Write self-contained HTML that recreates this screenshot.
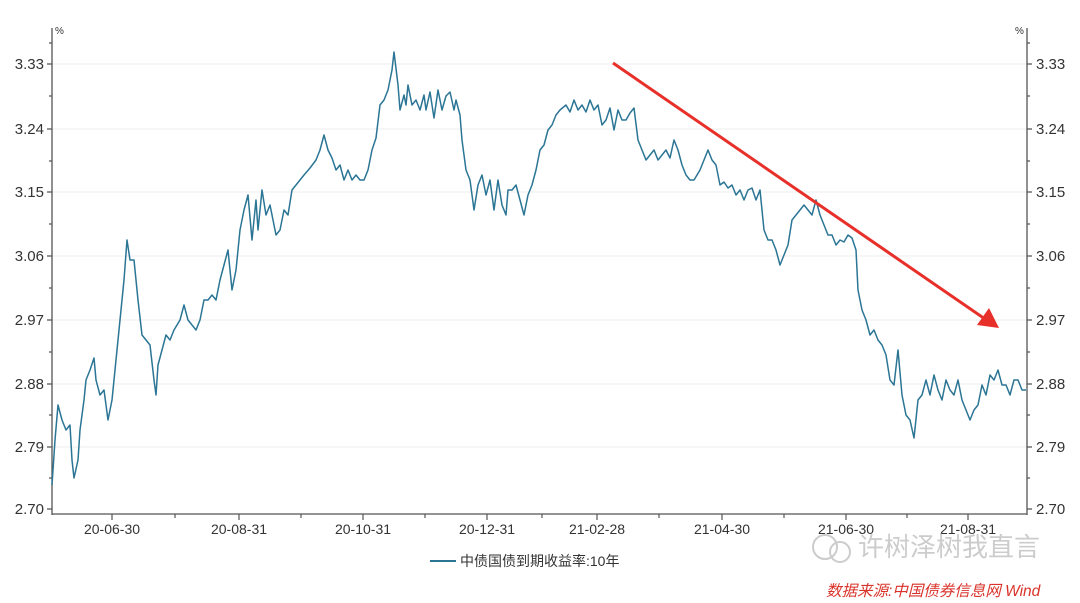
<!DOCTYPE html>
<html><head><meta charset="utf-8"><style>
body{margin:0;background:#fff;width:1080px;height:598px;overflow:hidden}
svg text{font-family:"Liberation Sans","Noto Sans CJK SC",sans-serif}
</style></head><body>
<svg width="1080" height="598" viewBox="0 0 1080 598">
<g stroke="#eee" stroke-width="1">
<line x1="52" x2="1027" y1="64" y2="64"/><line x1="52" x2="1027" y1="129" y2="129"/>
<line x1="52" x2="1027" y1="192" y2="192"/><line x1="52" x2="1027" y1="256" y2="256"/>
<line x1="52" x2="1027" y1="320" y2="320"/><line x1="52" x2="1027" y1="384" y2="384"/>
<line x1="52" x2="1027" y1="447" y2="447"/>
</g>
<g stroke="#555" stroke-width="1.3" fill="none">
<line x1="52" y1="28" x2="52" y2="515"/><line x1="1027" y1="28" x2="1027" y2="515"/>
<line x1="52" y1="514" x2="1027" y2="514"/>
</g>
<g stroke="#555" stroke-width="1.2">
<path d="M47 64h5M47 129h5M47 192h5M47 256h5M47 320h5M47 384h5M47 447h5M47 509h5M49 43h3M49 96h3M49 161h3M49 224h3M49 288h3M49 352h3M49 415h3M49 478h3"/>
<path d="M1027 64h5M1027 129h5M1027 192h5M1027 256h5M1027 320h5M1027 384h5M1027 447h5M1027 509h5M1027 43h3M1027 96h3M1027 161h3M1027 224h3M1027 288h3M1027 352h3M1027 415h3M1027 478h3"/>
<path d="M112 514v6M239 514v6M363 514v6M487 514v6M597 514v6M722 514v6M846 514v6M968 514v6M175 514v4M301 514v4M425 514v4M542 514v4M659 514v4M784 514v4M907 514v4"/>
</g>
<g font-size="15" fill="#333">
<text x="44" y="69" text-anchor="end">3.33</text><text x="44" y="134" text-anchor="end">3.24</text>
<text x="44" y="197" text-anchor="end">3.15</text><text x="44" y="261" text-anchor="end">3.06</text>
<text x="44" y="325" text-anchor="end">2.97</text><text x="44" y="389" text-anchor="end">2.88</text>
<text x="44" y="452" text-anchor="end">2.79</text><text x="44" y="514" text-anchor="end">2.70</text>
<text x="1036" y="69">3.33</text><text x="1036" y="134">3.24</text>
<text x="1036" y="197">3.15</text><text x="1036" y="261">3.06</text>
<text x="1036" y="325">2.97</text><text x="1036" y="389">2.88</text>
<text x="1036" y="452">2.79</text><text x="1036" y="514">2.70</text>
</g>
<g font-size="14" fill="#333" text-anchor="middle">
<text x="112" y="534">20-06-30</text><text x="239" y="534">20-08-31</text>
<text x="363" y="534">20-10-31</text><text x="487" y="534">20-12-31</text>
<text x="597" y="534">21-02-28</text><text x="722" y="534">21-04-30</text>
<text x="846" y="534">21-06-30</text><text x="968" y="534">21-08-31</text>
</g>
<text x="55" y="34" font-size="10" fill="#333">%</text>
<text x="1015" y="34" font-size="10" fill="#333">%</text>
<polyline fill="none" stroke="#2b7595" stroke-width="1.5" stroke-linejoin="round" points="52,485 55,440 58,405 62,420 66,430 70,425 72,460 74,478 78,460 80,430 84,400 86,380 90,370 94,358 96,380 100,395 104,390 108,420 112,400 116,360 120,320 124,280 127,240 130,260 134,260 138,300 142,335 146,340 150,345 154,380 156,395 158,365 162,350 166,335 170,340 174,330 180,320 184,305 188,320 192,325 196,330 200,320 204,300 208,300 212,295 216,300 220,280 224,265 228,250 232,290 236,270 240,230 244,210 248,195 252,240 256,200 258,230 262,190 266,215 270,205 274,225 276,235 280,230 284,210 288,215 292,190 296,185 300,180 304,175 310,168 316,160 320,150 324,135 328,150 332,158 336,170 340,165 344,180 348,170 352,180 356,175 360,180 364,180 368,170 372,150 376,138 380,105 384,100 388,90 392,70 394,52 398,85 400,110 404,95 406,105 408,85 412,105 416,100 420,110 424,95 426,110 430,92 434,118 438,90 442,110 446,96 450,92 454,110 456,100 460,115 462,140 466,170 470,180 474,210 478,185 482,175 486,195 490,180 494,210 498,180 502,205 506,215 508,190 512,190 516,185 520,200 524,215 528,195 532,185 536,170 540,150 544,145 548,130 552,125 556,115 560,110 566,105 570,112 574,100 578,110 582,105 586,112 590,100 594,110 598,105 602,125 606,120 610,108 614,130 618,110 622,120 626,120 630,113 634,108 638,140 642,150 646,160 650,155 654,150 658,160 662,155 666,150 670,158 674,140 678,150 682,165 686,175 690,180 694,180 700,170 704,160 708,150 712,160 716,165 720,185 724,182 728,188 732,185 736,195 740,190 744,200 748,190 752,188 756,200 760,190 764,230 768,240 772,240 776,250 780,265 784,255 788,245 792,220 796,215 800,210 804,205 808,210 812,215 816,200 820,215 824,225 828,235 832,235 836,245 840,240 844,242 848,235 852,238 856,250 858,290 862,310 866,320 870,335 874,330 878,340 882,345 886,355 890,380 894,385 898,350 902,395 906,415 910,420 914,438 918,400 922,395 926,380 930,395 934,375 938,390 942,400 946,380 950,390 954,395 958,380 962,400 966,410 970,420 974,410 978,405 982,385 986,395 990,375 994,380 998,370 1002,385 1006,385 1010,395 1014,380 1018,380 1022,390 1026,390"/>
<line x1="613" y1="63" x2="985" y2="319" stroke="#e8302a" stroke-width="3"/>
<polygon points="999,328 977,325 989,308" fill="#e8302a"/>
<line x1="430" y1="561" x2="456" y2="561" stroke="#2b7595" stroke-width="2"/>
<text x="460" y="566" font-size="14" fill="#333">中债国债到期收益率:10年</text>
<text x="858" y="556" font-size="26" fill="#ccc">许树泽树我直言</text>
<circle cx="825" cy="547" r="12" fill="none" stroke="#ccc" stroke-width="2"/>
<circle cx="840" cy="552" r="10" fill="none" stroke="#ccc" stroke-width="2"/>
<text x="826" y="596" font-size="15.5" fill="#d9342b" font-style="italic">数据来源:中国债券信息网 Wind</text>
</svg>
</body></html>
